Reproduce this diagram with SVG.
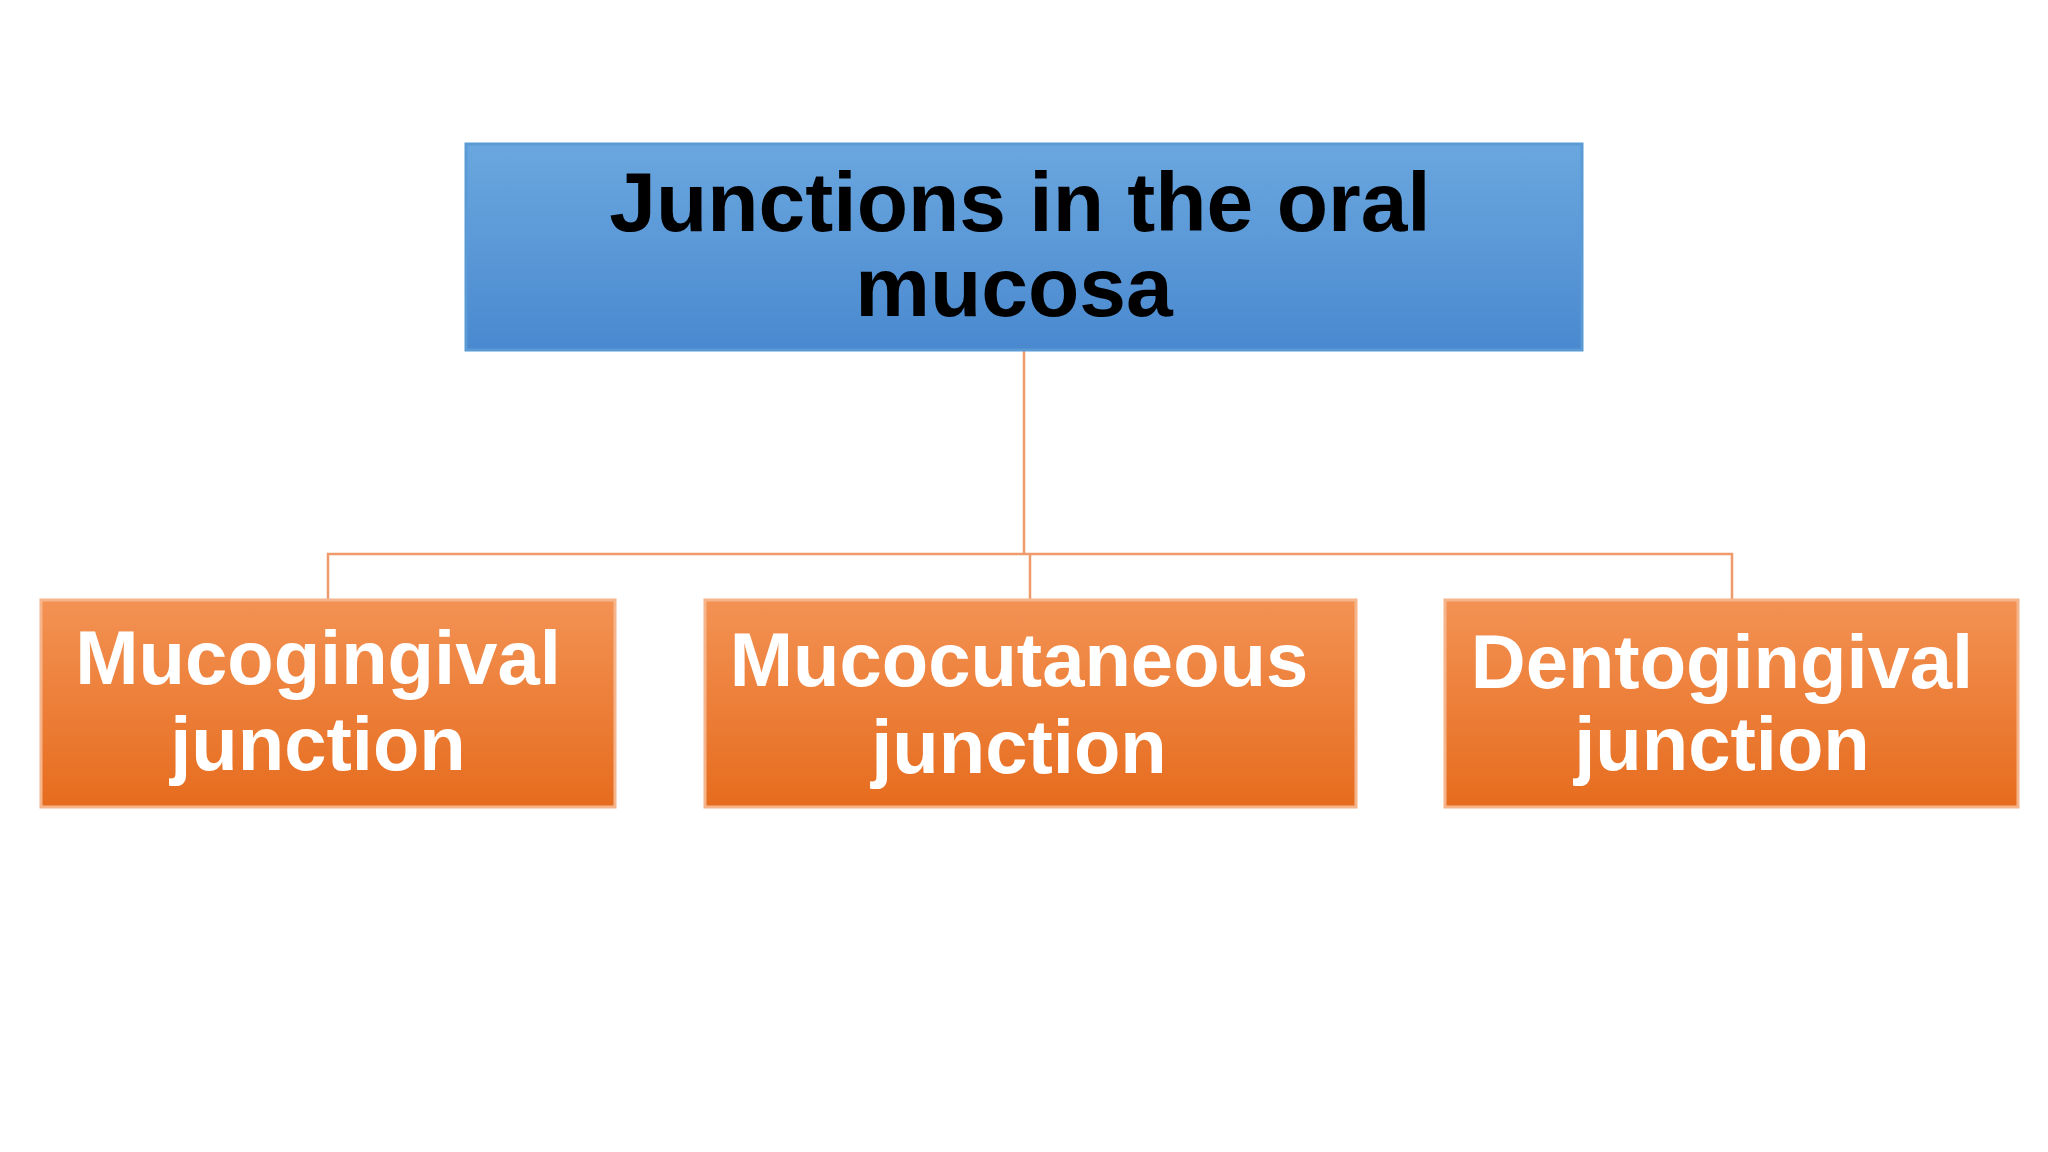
<svg xmlns="http://www.w3.org/2000/svg" width="2048" height="1152" viewBox="0 0 2048 1152">
<style>
.t{font-family:"Liberation Sans",Arial,sans-serif;font-weight:bold;text-anchor:middle}
.c{fill:none;stroke:#EE9A6A;stroke-width:2.5}
</style>
<defs>
<linearGradient id="b" x1="0" y1="0" x2="0" y2="1"><stop offset="0" stop-color="#6AA7DF"/><stop offset="1" stop-color="#4A89CF"/></linearGradient>
<linearGradient id="o" x1="0" y1="0" x2="0" y2="1"><stop offset="0" stop-color="#F39254"/><stop offset="1" stop-color="#E66C1E"/></linearGradient>
</defs>
<rect width="2048" height="1152" fill="#fff"/>
<g id="connectors">
<path class="c" d="M1024 350V554M328 599V554H1732V599M1030 554V599"/>
</g>
<g id="root">
<rect x="466" y="144" width="1116" height="206" fill="url(#b)" stroke="#5B9BD5" stroke-width="3"/>
<text class="t" x="1020" y="231" font-size="84" fill="#000">Junctions in the oral</text>
<text class="t" x="1014" y="316" font-size="84" fill="#000">mucosa</text>
</g>
<g id="n1">
<rect x="41" y="600" width="574" height="207" fill="url(#o)" stroke="#F6B48A" stroke-width="3"/>
<text class="t" x="318" y="684" font-size="76" fill="#fff">Mucogingival</text>
<text class="t" x="318" y="770" font-size="76" fill="#fff">junction</text>
</g>
<g id="n2">
<rect x="705" y="600" width="651" height="207" fill="url(#o)" stroke="#F6B48A" stroke-width="3"/>
<text class="t" x="1019" y="686" font-size="76" fill="#fff">Mucocutaneous</text>
<text class="t" x="1019" y="773" font-size="76" fill="#fff">junction</text>
</g>
<g id="n3">
<rect x="1445" y="600" width="573" height="207" fill="url(#o)" stroke="#F6B48A" stroke-width="3"/>
<text class="t" x="1722" y="688" font-size="76" fill="#fff">Dentogingival</text>
<text class="t" x="1722" y="770" font-size="76" fill="#fff">junction</text>
</g>
</svg>
